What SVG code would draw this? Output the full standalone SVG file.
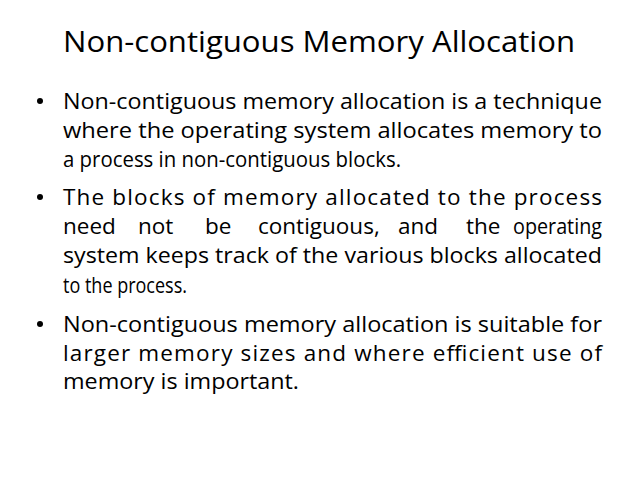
<svg xmlns="http://www.w3.org/2000/svg" width="638" height="478" viewBox="0 0 638 478">
<style>
text{font-family:"Open Sans","Liberation Sans",sans-serif;fill:#000}
.t{font-size:30px}
.b{font-size:22.5px}
</style>
<rect width="638" height="478" fill="#fff"/>
<g id="title"><text class="t" x="63" y="52" textLength="512" lengthAdjust="spacingAndGlyphs">Non-contiguous Memory Allocation</text></g>
<g id="bullet1">
<circle cx="40" cy="101" r="3"/>
<text class="b" x="63" y="109" textLength="539" lengthAdjust="spacingAndGlyphs">Non-contiguous memory allocation is a technique</text>
<text class="b" x="63" y="138" textLength="539" lengthAdjust="spacingAndGlyphs">where the operating system allocates memory to</text>
<text class="b" x="63" y="167" textLength="338" lengthAdjust="spacingAndGlyphs">a process in non-contiguous blocks.</text>
</g>
<g id="bullet2">
<circle cx="40" cy="197" r="3"/>
<text class="b" x="63" y="205" textLength="539" lengthAdjust="spacing">The blocks of memory allocated to the process</text>
<text class="b" y="234"><tspan x="63">need</tspan><tspan x="138">not</tspan><tspan x="205">be</tspan><tspan x="258">contiguous,</tspan><tspan x="398">and</tspan><tspan x="466">the</tspan><tspan x="513" textLength="89" lengthAdjust="spacingAndGlyphs">operating</tspan></text>
<text class="b" x="63" y="263" textLength="539" lengthAdjust="spacingAndGlyphs">system keeps track of the various blocks allocated</text>
<text class="b" x="63" y="293" textLength="124" lengthAdjust="spacingAndGlyphs">to the process.</text>
</g>
<g id="bullet3">
<circle cx="40" cy="324" r="3"/>
<text class="b" x="63" y="332" textLength="539" lengthAdjust="spacingAndGlyphs">Non-contiguous memory allocation is suitable for</text>
<text class="b" x="63" y="361" textLength="539" lengthAdjust="spacing">larger memory sizes and where efficient use of</text>
<text class="b" x="63" y="389" textLength="236" lengthAdjust="spacingAndGlyphs">memory is important.</text>
</g>
<g id="connectors"/>
</svg>
